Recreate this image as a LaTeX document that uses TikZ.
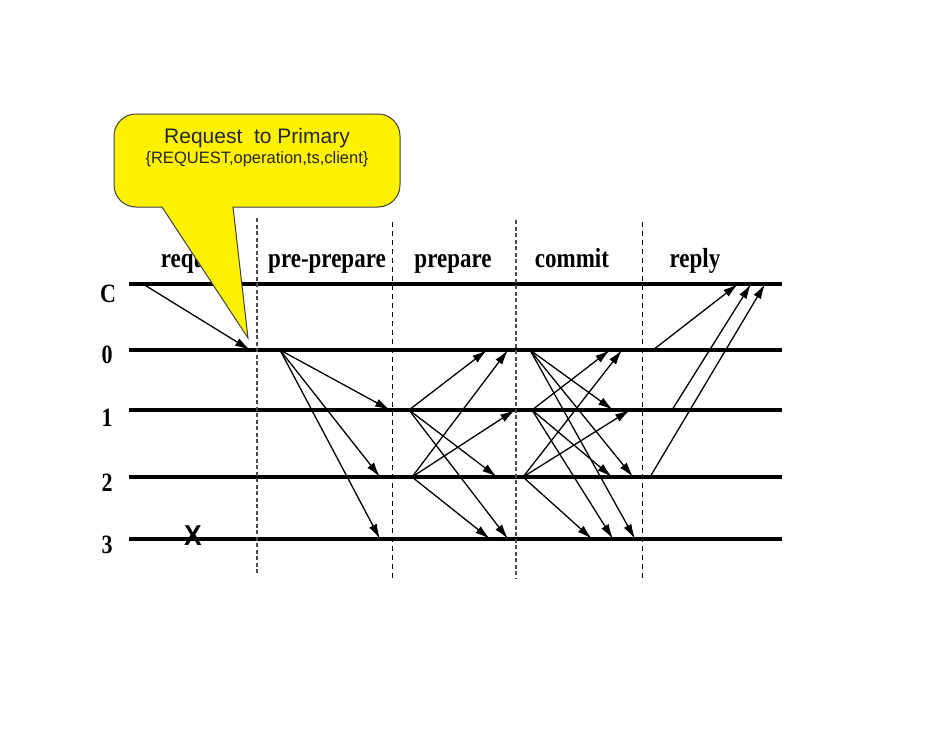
\documentclass[tikz,border=0pt]{standalone}
\usepackage{fontspec}
\setmainfont{Liberation Serif}
\newfontfamily\calloutfont{Liberation Sans}
\usetikzlibrary{arrows.meta}
\begin{document}
\begin{tikzpicture}[x=1pt,y=-1pt,
  procline/.style={line width=4pt},
  msg/.style={line width=1.3pt,-{Latex[length=15pt,width=8.5pt]}},
  phasesep/.style={line width=1.1pt,black!70,dash pattern=on 4pt off 2.5pt},
  phasesepb/.style={line width=1pt,black,dash pattern=on 5pt off 4pt},
  phaselabel/.style={anchor=base,inner sep=0pt,font=\fontsize{23}{23}\selectfont\bfseries},
  proclabel/.style={anchor=base,inner sep=0pt,font=\fontsize{22}{22}\selectfont\bfseries},
  callout/.style={fill=yellow,draw=black!75,line width=1pt}
]
\useasboundingbox (0,0) rectangle (942,728);

% process lines
\foreach \n/\y in {C/284,0/350,1/410,2/477,3/539}{
  \coordinate (L\n a) at (129,\y);
  \coordinate (L\n b) at (782,\y);
  \draw[procline] (L\n a) -- (L\n b);
}

% process labels
\node[proclabel] (labC) at (108,302) {\scalebox{1}[1.2]{C}};
\node[proclabel] (lab0) at (107,363) {\scalebox{1}[1.2]{0}};
\node[proclabel] (lab1) at (107,426) {\scalebox{1}[1.2]{1}};
\node[proclabel] (lab2) at (107,491) {\scalebox{1}[1.2]{2}};
\node[proclabel] (lab3) at (107,553) {\scalebox{1}[1.2]{3}};

% phase separators
\coordinate (s1t) at (257,218); \coordinate (s1b) at (257,575);
\coordinate (s2t) at (392,222); \coordinate (s2b) at (392,580);
\coordinate (s3t) at (516,220); \coordinate (s3b) at (516,578);
\coordinate (s4t) at (642,222); \coordinate (s4b) at (642,582);
\draw[phasesep] (s1t) -- (s1b);
\draw[phasesepb] (s2t) -- (s2b);
\draw[phasesep] (s3t) -- (s3b);
\draw[phasesepb] (s4t) -- (s4b);

% phase labels
\node[phaselabel] (ph0) at (197,267) {\scalebox{1}[1.2]{request}};
\node[phaselabel] (ph1) at (327,267) {\scalebox{1}[1.2]{pre-prepare}};
\node[phaselabel] (ph2) at (453,267) {\scalebox{1}[1.2]{prepare}};
\node[phaselabel] (ph3) at (572,267) {\scalebox{1}[1.2]{commit}};
\node[phaselabel] (ph4) at (695,267) {\scalebox{1}[1.2]{reply}};

% failed replica
\node[inner sep=0pt,font=\calloutfont\fontsize{24}{24}\selectfont\bfseries] (fail) at (193,536) {\scalebox{1.1}[1.2]{X}};

% request
\coordinate (rqs) at (143,284); \coordinate (rqe) at (250,350);
\draw[msg] (rqs) -- (rqe);

% pre-prepare
\coordinate (pp0) at (280,350);
\coordinate (pp1) at (390,410);
\coordinate (pp2) at (380,477);
\coordinate (pp3) at (380,539);
\draw[msg] (pp0) -- (pp1);
\draw[msg] (pp0) -- (pp2);
\draw[msg] (pp0) -- (pp3);

% prepare
\coordinate (pr1) at (409,410);
\coordinate (pr2) at (412,477);
\coordinate (pr10) at (487,350);
\coordinate (pr12) at (497,477);
\coordinate (pr13) at (508,539);
\coordinate (pr20) at (508,350);
\coordinate (pr21) at (515,410);
\coordinate (pr23) at (490,539);
\draw[msg] (pr1) -- (pr10);
\draw[msg] (pr1) -- (pr12);
\draw[msg] (pr1) -- (pr13);
\draw[msg] (pr2) -- (pr20);
\draw[msg] (pr2) -- (pr21);
\draw[msg] (pr2) -- (pr23);

% commit
\coordinate (cm0) at (530,350);
\coordinate (cm1) at (532,410);
\coordinate (cm2) at (523,477);
\coordinate (cm01) at (613,410);
\coordinate (cm02) at (633,477);
\coordinate (cm03) at (635,539);
\coordinate (cm10) at (610,350);
\coordinate (cm12) at (612,477);
\coordinate (cm13) at (613,539);
\coordinate (cm20) at (622,350);
\coordinate (cm21) at (630,410);
\coordinate (cm23) at (592,539);
\draw[msg] (cm0) -- (cm01);
\draw[msg] (cm0) -- (cm02);
\draw[msg] (cm0) -- (cm03);
\draw[msg] (cm1) -- (cm10);
\draw[msg] (cm1) -- (cm12);
\draw[msg] (cm1) -- (cm13);
\draw[msg] (cm2) -- (cm20);
\draw[msg] (cm2) -- (cm21);
\draw[msg] (cm2) -- (cm23);

% reply
\coordinate (rp0) at (653,350); \coordinate (rp0e) at (738,284);
\coordinate (rp1) at (672,410); \coordinate (rp1e) at (751,284);
\coordinate (rp2) at (650,477); \coordinate (rp2e) at (765,284);
\draw[msg] (rp0) -- (rp0e);
\draw[msg] (rp1) -- (rp1e);
\draw[msg] (rp2) -- (rp2e);

% callout
\coordinate (cbA) at (233,207);
\coordinate (cbB) at (400,207);
\coordinate (cbC) at (400,114);
\coordinate (cbD) at (114,114);
\coordinate (cbE) at (114,207);
\coordinate (cbF) at (162,207);
\coordinate (cbT) at (248,338);
\draw[callout] (cbA) [rounded corners=22pt] -- (cbB) -- (cbC) -- (cbD) -- (cbE) [sharp corners] -- (cbF) -- (cbT) -- cycle;
\node[anchor=base,inner sep=0pt,black!85,font=\calloutfont\fontsize{21}{21}\selectfont] (ct1) at (257,143) {Request\ \ to Primary};
\node[anchor=base,inner sep=0pt,black!85,font=\calloutfont\fontsize{16.5}{16.5}\selectfont] (ct2) at (257,163) {\{REQUEST,operation,ts,client\}};
\end{tikzpicture}
\end{document}
